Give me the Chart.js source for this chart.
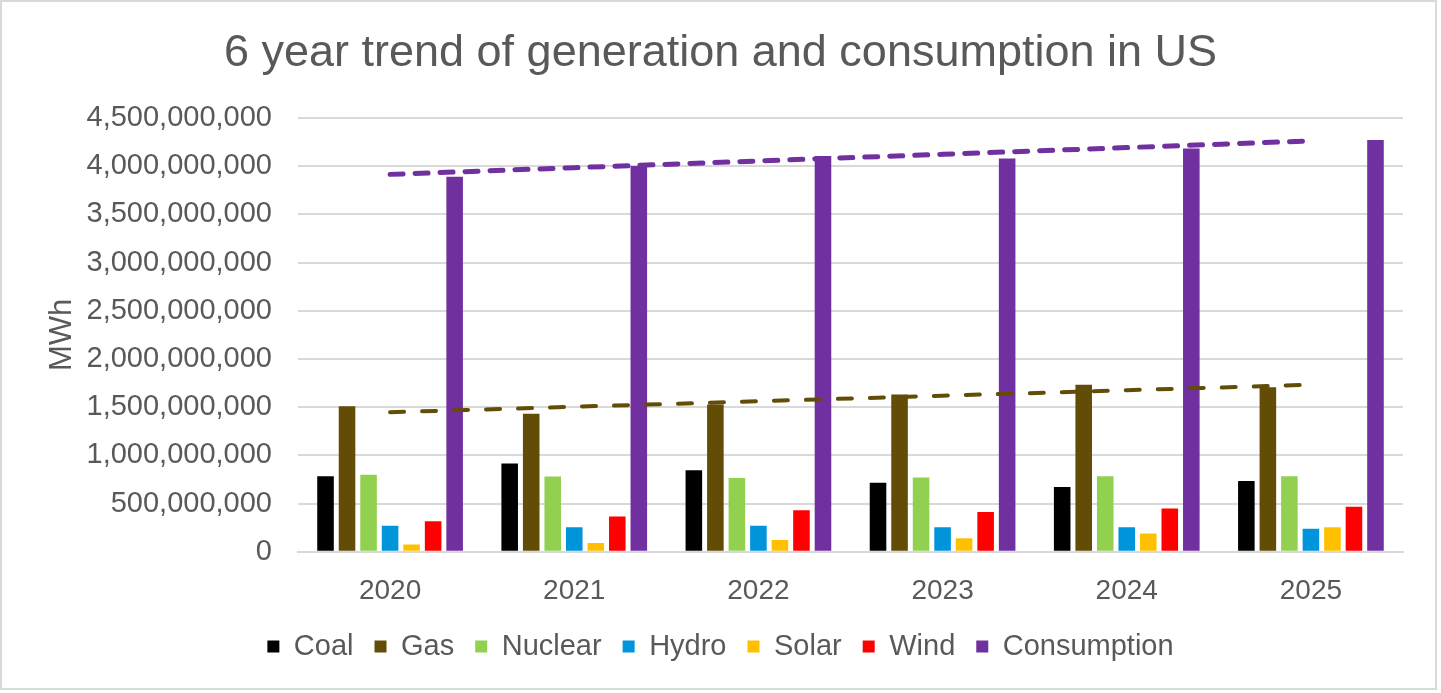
<!DOCTYPE html>
<html>
<head>
<meta charset="utf-8">
<script src="https://cdn.jsdelivr.net/npm/chart.js@4.4.1/dist/chart.umd.min.js"></script>
<style>
html,body{margin:0;padding:0;background:#fff;}
#wrap{position:relative;width:1441px;height:693px;overflow:hidden;}
#frame{position:absolute;left:0;top:0;width:1437px;height:690px;border:2px solid #d9d9d9;box-sizing:border-box;pointer-events:none;}
canvas{position:absolute;left:0;top:0;}
</style>
</head>
<body>
<div id="wrap"><canvas id="c" width="1441" height="693"></canvas><div id="frame"></div></div>
<script>
// ---- data (MWh) ----
const years       = ['2020', '2021', '2022', '2023', '2024', '2025'];
const coal        = [784e6, 916e6, 847e6, 717e6, 673e6, 735e6];
const gas         = [1510e6, 1431e6, 1528e6, 1632e6, 1733e6, 1708e6];
const nuclear     = [798e6, 780e6, 766e6, 772e6, 784e6, 784e6];
const hydro       = [269e6, 255e6, 269e6, 255e6, 255e6, 238e6];
const solar       = [75e6, 92e6, 123e6, 141e6, 190e6, 255e6];
const wind        = [318e6, 367e6, 430e6, 412e6, 450e6, 467e6];
const consumption = [3890e6, 4002e6, 4106e6, 4079e6, 4183e6, 4273e6];
const yTicksMax   = 4500000000;
const yTickStep   = 500000000;

// linear (least squares) trendline, as in the original spreadsheet chart
function linearTrend(vals) {
  const n = vals.length;
  const mx = (n - 1) / 2;
  const my = vals.reduce((a, b) => a + b, 0) / n;
  let sxy = 0, sxx = 0;
  vals.forEach((v, i) => { sxy += (i - mx) * (v - my); sxx += (i - mx) * (i - mx); });
  const slope = sxy / sxx;
  return vals.map((v, i) => my + slope * (i - mx));
}

function fmt(v) {
  return String(Math.round(v)).replace(/\B(?=(\d{3})+(?!\d))/g, ',');
}

const FONT = "'Liberation Sans', Arial, sans-serif";
const TXT = '#595959';

const barSeries = [
  ['Coal', coal, '#000000'],
  ['Gas', gas, '#624C06'],
  ['Nuclear', nuclear, '#92D050'],
  ['Hydro', hydro, '#0095DA'],
  ['Solar', solar, '#FFC000'],
  ['Wind', wind, '#FF0000'],
  ['Consumption', consumption, '#7030A0']
];

const datasets = barSeries.map(([label, data, color]) => ({
  type: 'bar',
  label: label,
  data: data,
  backgroundColor: color,
  borderWidth: 0,
  order: 0,
  yAxisID: 'y',
  categoryPercentage: 0.818,
  barPercentage: 0.77
}));

datasets.push({
  type: 'line',
  label: 'Linear (Consumption)',
  data: linearTrend(consumption),
  borderColor: '#7030A0',
  borderWidth: 5,
  borderDash: [13, 12],
  borderCapStyle: 'round',
  pointRadius: 0,
  fill: false,
  yAxisID: 'y',
  order: -1
});
datasets.push({
  type: 'line',
  label: 'Linear (Gas)',
  data: linearTrend(gas),
  borderColor: '#624C06',
  borderWidth: 4,
  borderDash: [14, 18],
  borderCapStyle: 'round',
  pointRadius: 0,
  fill: false,
  yAxisID: 'y',
  order: -1
});

new Chart(document.getElementById('c'), {
  data: { labels: years, datasets: datasets },
  options: {
    responsive: false,
    animation: false,
    devicePixelRatio: 1,
    layout: { padding: { left: 0, right: 0, top: 0, bottom: 22 } },
    plugins: {
      tooltip: { enabled: false },
      title: {
        display: true,
        text: '6 year trend of generation and consumption in US',
        color: TXT,
        font: { family: FONT, size: 45, weight: 'normal', lineHeight: 1.2 },
        padding: { top: 27, bottom: 37 }
      },
      legend: {
        position: 'bottom',
        labels: {
          color: TXT,
          font: { family: FONT, size: 29 },
          boxWidth: 12,
          boxHeight: 12,
          padding: 21,
          filter: (item) => item.datasetIndex < 7
        }
      }
    },
    scales: {
      x: {
        afterFit: (s) => { s.height = 59.2; },
        grid: { display: false, drawTicks: false },
        border: { display: true, color: '#d9d9d9', width: 2 },
        ticks: { color: TXT, font: { family: FONT, size: 28, lineHeight: 1.2 }, padding: 22.7, maxRotation: 0 }
      },
      y: {
        min: 0,
        max: yTicksMax,
        afterFit: (s) => { s.width = 298; },
        grid: { color: '#d9d9d9', lineWidth: 2, drawTicks: false },
        border: { display: false },
        ticks: { stepSize: yTickStep, color: TXT, font: { family: FONT, size: 29 }, padding: 26, callback: (v) => fmt(v) },
        title: {
          display: true,
          text: 'MWh',
          color: TXT,
          font: { family: FONT, size: 31 },
          padding: { top: 44, bottom: 0 }
        }
      },
      yRight: {
        position: 'right',
        display: true,
        afterFit: (s) => { s.width = 38; },
        grid: { display: false, drawTicks: false },
        border: { display: false },
        ticks: { display: false }
      }
    }
  }
});
</script>
</body>
</html>
